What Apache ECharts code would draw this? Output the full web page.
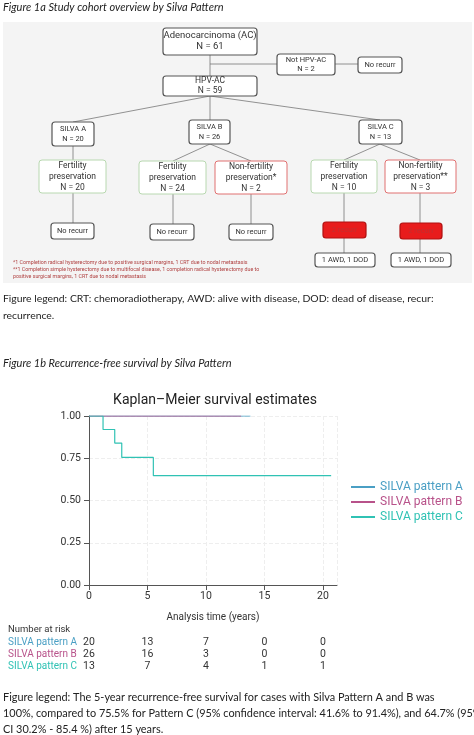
<!DOCTYPE html>
<html><head><meta charset="utf-8">
<script src="https://cdn.jsdelivr.net/npm/echarts@6/dist/echarts.min.js"></script>
<style>html,body{margin:0;padding:0;background:#fff}#c{width:474px;height:735px}</style>
</head><body><div id="c"></div>
<script>
const seriesNames = ['SILVA pattern A','SILVA pattern B','SILVA pattern C'];
const seriesColors = ['#4a9fc4','#b8528a','#30c2b4'];
const timesA = [0, 13.8];  const survA = [1, 1];
const timesB = [0, 13.0];  const survB = [1, 1];
const timesC = [0, 1.2, 2.2, 2.8, 5.5, 20.7];
const survC  = [1, 0.92, 0.84, 0.755, 0.647, 0.647];
const xTicks = [0, 5, 10, 15, 20];
const riskA = [20, 13, 7, 0, 0];
const riskB = [26, 16, 3, 0, 0];
const riskC = [13, 7, 4, 1, 1];

function stepData(t, s){
  const d=[];
  for(let i=0;i<t.length;i++){
    if(i>0) d.push([t[i], s[i-1]]);
    d.push([t[i], s[i]]);
  }
  return d;
}
const chart = echarts.init(document.getElementById('c'));
const F = 'Lato, "Open Sans", sans-serif';
const KF = 'Roboto, "Liberation Sans", sans-serif';

const g = [];
g.push({type:'rect',shape:{x:3,y:22,width:469,height:261},style:{fill:'#f4f4f4'}});
function box(x1,y1,x2,y2,lines,opt){
  opt=opt||{};
  g.push({type:'rect',shape:{x:x1,y:y1,width:x2-x1,height:y2-y1,r:3},
    style:{fill:opt.fill||'#fff',stroke:opt.stroke||'#555',lineWidth:opt.lw||1.2}});
  g.push({type:'text',x:(x1+x2)/2,y:(y1+y2)/2,style:{text:lines.join('\n'),fill:opt.color||'#333',
    font:(opt.size||9)+'px '+KF,align:'center',verticalAlign:'middle',lineHeight:opt.lh||10}});
}
function ln(x1,y1,x2,y2){g.push({type:'line',shape:{x1,y1,x2,y2},style:{stroke:'#777',lineWidth:0.8}});}
ln(210,55,210,76); ln(210,64,277,64); ln(335,64,358,64);
ln(210,96,73,122); ln(210,96,210,120); ln(210,96,380,120);
ln(73,146,73,160); ln(210,144,173,161); ln(210,144,251,161);
ln(380,144,344,160); ln(380,144,420,160);
ln(73,193,73,223); ln(173,194,173,224); ln(251,194,251,224);
ln(344,193,344,222); ln(420,193,420,223); ln(344,238,344,253); ln(420,239,420,253);
box(163,28,257,55,['Adenocarcinoma (AC)','N = 61'],{size:9.5,lh:11});
box(277,54,335,75,['Not HPV-AC','N = 2'],{size:7.5,lh:9});
box(358,57,402,73,['No recurr'],{size:7.5});
box(163,76,257,96,['HPV-AC','N = 59'],{size:8.5,lh:10});
box(52,122,94,146,['SILVA A','N = 20'],{size:7.5,lh:10});
box(189,120,230,144,['SILVA B','N = 26'],{size:7.5,lh:10});
box(359,120,402,144,['SILVA C','N = 13'],{size:7.5,lh:10});
const gr={stroke:'#b8d8b0',lw:1};
const rd={stroke:'#e07070',lw:1};
box(39,160,106,193,['Fertility','preservation','N = 20'],Object.assign({size:8.5,lh:11},gr));
box(139,161,206,194,['Fertility','preservation','N = 24'],Object.assign({size:8.5,lh:11},gr));
box(215,161,287,194,['Non-fertility','preservation*','N = 2'],Object.assign({size:8.5,lh:11},rd));
box(311,160,377,193,['Fertility','preservation','N = 10'],Object.assign({size:8.5,lh:11},gr));
box(385,160,456,193,['Non-fertility','preservation**','N = 3'],Object.assign({size:8.5,lh:11},rd));
box(51,223,94,239,['No recurr'],{size:7.5});
box(150,224,194,240,['No recurr'],{size:7.5});
box(229,224,273,240,['No recurr'],{size:7.5});
box(323,222,366,238,['2 recurr'],{size:7.5,fill:'#e81c1c',stroke:'#b01010',color:'#c03030'});
box(400,223,442,239,['2 recurr'],{size:7.5,fill:'#e81c1c',stroke:'#b01010',color:'#c03030'});
box(315,253,375,267,['1 AWD, 1 DOD'],{size:7.5});
box(391,253,451,267,['1 AWD, 1 DOD'],{size:7.5});
g.push({type:'text',x:13,y:259,style:{fill:'#b04040',font:'5.3px '+KF,lineHeight:7,
  text:'*1 Completion radical hysterectomy due to positive surgical margins, 1 CRT due to nodal metastasis\n**1 Completion simple hysterectomy due to multifocal disease, 1 completion radical hysterectomy due to\npositive surgical margins, 1 CRT due to nodal metastasis'}});
function t(x,y,s,opt){opt=opt||{};g.push({type:'text',x,y,style:{text:s,fill:opt.color||'#222',
  font:(opt.italic?'italic ':'')+(opt.size||11)+'px '+(opt.ff||F),verticalAlign:'middle'}});}
t(3,7,'Figure 1a Study cohort overview by Silva Pattern',{italic:true,size:11});
t(3,299,'Figure legend: CRT: chemoradiotherapy, AWD: alive with disease, DOD: dead of disease, recur:',{size:10.4});
t(3,316,'recurrence.',{size:10.4});
t(3,363,'Figure 1b Recurrence-free survival by Silva Pattern',{italic:true,size:11});
t(3,697,'Figure legend: The 5-year recurrence-free survival for cases with Silva Pattern A and B was',{size:10.9});
t(3,713,'100%, compared to 75.5% for Pattern C (95% confidence interval: 41.6% to 91.4%), and 64.7% (95%',{size:10.9});
t(3,729,'CI 30.2% - 85.4 %) after 15 years.',{size:10.9});
t(8,630,'Number at risk',{ff:KF,size:9.5,color:'#333'});

chart.setOption({
  animation:false,
  title:{text:'Kaplan\u2013Meier survival estimates',left:210,top:388,textAlign:'center',
    textStyle:{fontFamily:KF,fontSize:14,fontWeight:'normal',color:'#222'}},
  grid:{left:89,right:137,top:416,bottom:150},
  xAxis:{type:'value',min:0,max:21.2,interval:5,
    axisLine:{show:true,lineStyle:{color:'#555'}},axisTick:{show:true,lineStyle:{color:'#555'}},
    axisLabel:{showMaxLabel:false,fontFamily:KF,fontSize:10.5,color:'#333',margin:6},
    splitLine:{show:true,lineStyle:{color:'#eee',type:'dashed'}},
    name:'Analysis time (years)',nameLocation:'middle',nameGap:27,
    nameTextStyle:{fontFamily:KF,fontSize:10,color:'#333'}},
  yAxis:{type:'value',min:0,max:1,interval:0.25,
    axisLine:{show:true,lineStyle:{color:'#555'}},axisTick:{show:true,lineStyle:{color:'#555'}},
    axisLabel:{formatter:v=>v.toFixed(2),fontFamily:KF,fontSize:10.5,color:'#333'},
    splitLine:{show:true,lineStyle:{color:'#eee',type:'dashed'}}},
  legend:{orient:'vertical',left:346,top:476,itemWidth:24,itemHeight:2,itemGap:3,
    icon:'rect',textStyle:{fontFamily:KF,fontSize:12},
    data:seriesNames.map((n,i)=>({name:n,textStyle:{color:seriesColors[i]}}))},
  series:[
    {name:seriesNames[0],type:'line',data:stepData(timesA,survA),showSymbol:false,lineStyle:{width:1.2,color:seriesColors[0]},itemStyle:{color:seriesColors[0]}},
    {name:seriesNames[1],type:'line',data:stepData(timesB,survB),showSymbol:false,lineStyle:{width:1.2,color:seriesColors[1]},itemStyle:{color:seriesColors[1]}},
    {name:seriesNames[2],type:'line',data:stepData(timesC,survC),showSymbol:false,lineStyle:{width:1.2,color:seriesColors[2]},itemStyle:{color:seriesColors[2]}}
  ],
  graphic:g
});
const rows=[riskA,riskB,riskC]; const rowY=[642,654,666];
const extra=[];
rows.forEach((r,ri)=>{
  extra.push({type:'text',x:8,y:rowY[ri],style:{text:seriesNames[ri],fill:seriesColors[ri],font:'10px '+KF,verticalAlign:'middle'}});
  r.forEach((v,i)=>{
    const px=chart.convertToPixel({xAxisIndex:0},xTicks[i]);
    extra.push({type:'text',x:px,y:rowY[ri],style:{text:String(v),fill:'#333',font:'10.5px '+KF,align:'center',verticalAlign:'middle'}});
  });
});
chart.setOption({graphic:g.concat(extra)});
</script></body></html>
